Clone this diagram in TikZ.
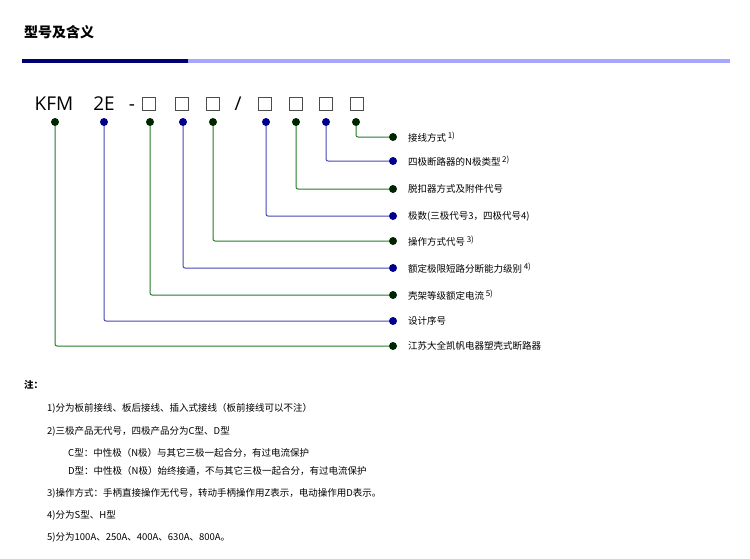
\documentclass[tikz,border=0pt]{standalone}
\usepackage{fontspec}
\setmainfont{Noto Sans CJK SC}
\newfontfamily\codefont{Open Sans}
\newcommand{\sups}[1]{\,\raisebox{0.6ex}{\fontsize{8}{9}\selectfont #1}}
\begin{document}
\begin{tikzpicture}[x=1pt,y=-1pt,
 dk/.style={circle,fill=black!85!green,inner sep=0pt,minimum size=8pt},
 bl/.style={circle,fill=blue!55!black,inner sep=0pt,minimum size=8pt},
 gl/.style={draw=green!40!black!85,line width=1pt},
 blu/.style={draw=blue!45!gray,line width=1pt},
 lab/.style={anchor=west,font=\fontsize{9.5}{11}\selectfont,inner sep=0pt},
 code/.style={font=\codefont\fontsize{19}{22}\selectfont,inner sep=0pt,anchor=base},
 note/.style={anchor=west,font=\fontsize{9.5}{11}\selectfont,inner sep=0pt}]
\useasboundingbox[fill=white] (0,0) rectangle (750,558);
\node[anchor=west,font=\bfseries\fontsize{14}{16}\selectfont,inner sep=0pt] (title) at (24,32) {型号及含义};
\fill[blue!45!black] (22,59) rectangle (188,63);
\fill[blue!35!white] (188,59) rectangle (730,63);
% code
\node[code] (kfm) at (54,110) {KFM};
\node[code] (e2) at (104,110) {2E};
\node[code] (dash) at (132,110) {-};
\foreach \x/\n in {149/b1,182/b2,213/b3,265/b4,296/b5,326/b6,357/b7}
  \node[draw=black!70,line width=0.5pt,minimum size=13pt,inner sep=0pt] (\n) at (\x,104) {};
\node[code] (sl) at (238,110) {/};
% top dots
\foreach \x/\s/\n in {55/dk/t1,104/bl/t2,150/dk/t3,183/bl/t4,213/dk/t5,266/bl/t6,296/dk/t7,326/bl/t8,356/dk/t9}
  \node[\s] (\n) at (\x,122) {};
% rows
\foreach \y/\s/\n/\t in {
 137/dk/r9/{接线方式\sups{1)}},
 161/bl/r8/{四极断路器的N极类型\sups{2)}},
 189/dk/r7/{脱扣器方式及附件代号},
 216/bl/r6/{极数(三极代号3，四极代号4)},
 241/dk/r5/{操作方式代号\sups{3)}},
 268/bl/r4/{额定极限短路分断能力级别\sups{4)}},
 295/dk/r3/{壳架等级额定电流\sups{5)}},
 321/bl/r2/{设计序号},
 346/dk/r1/{江苏大全凯帆电器塑壳式断路器}}{
  \node[\s] (\n) at (393,\y) {};
  \node[lab] (l\n) at (408,\y) {\t};
}
\foreach \a/\b/\st in {t1/r1/gl,t2/r2/blu,t3/r3/gl,t4/r4/blu,t5/r5/gl,t6/r6/blu,t7/r7/gl,t8/r8/blu,t9/r9/gl}
  \draw[\st,rounded corners=2pt] (\a) |- (\b);
% notes
\node[note,font=\bfseries\fontsize{9.5}{11}\selectfont] (n0) at (24,385) {注：};
\node[note] (n1) at (47,408) {1)分为板前接线、板后接线、插入式接线（板前接线可以不注）};
\node[note] (n2) at (47,431) {2)三极产品无代号，四极产品分为C型、D型};
\node[note] (n3) at (68,453) {C型：中性极（N极）与其它三极一起合分，有过电流保护};
\node[note] (n4) at (68,471) {D型：中性极（N极）始终接通，不与其它三极一起合分，有过电流保护};
\node[note] (n5) at (47,493) {3)操作方式：手柄直接操作无代号，转动手柄操作用Z表示，电动操作用D表示。};
\node[note] (n6) at (47,515) {4)分为S型、H型};
\node[note] (n7) at (47,537) {5)分为100A、250A、400A、630A、800A。};
\end{tikzpicture}
\end{document}
